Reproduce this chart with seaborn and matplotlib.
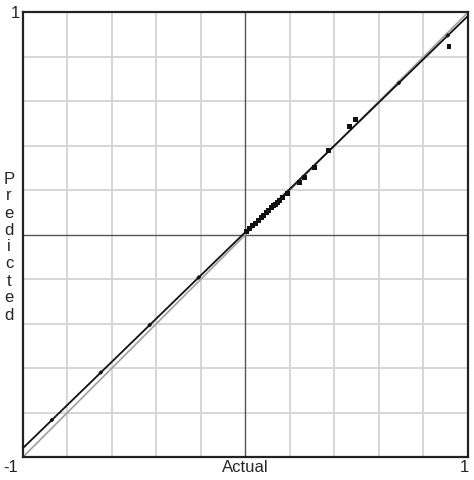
import numpy as np
import pandas as pd
import seaborn as sns
import matplotlib.pyplot as plt

# actual vs predicted values
actual = [0.006, 0.019, 0.033, 0.046, 0.060, 0.073, 0.082, 0.096, 0.104, 0.118,
          0.127, 0.136, 0.145, 0.154, 0.168, 0.190, 0.244, 0.267, 0.312, 0.375,
          0.469, 0.496, 0.915]
predicted = [0.014, 0.027, 0.041, 0.050, 0.063, 0.077, 0.086, 0.099, 0.108, 0.122,
             0.131, 0.135, 0.144, 0.153, 0.167, 0.185, 0.234, 0.257, 0.302, 0.378,
             0.486, 0.518, 0.847]

# fitted line and its marker positions
fit_intercept = 0.012
fit_slope = 0.972
fit_x = [-1.0, -0.87, -0.65, -0.43, -0.21, 0.01, 0.23, 0.45, 0.69, 0.91, 1.0]
fit_marks = [-0.87, -0.65, -0.43, -0.21, 0.69, 0.91]

ideal = [-1.0, 1.0]

sns.set_style("white")
plt.rcParams['font.family'] = ['Liberation Sans', 'DejaVu Sans']

fig = plt.figure(figsize=(4.74, 4.8), dpi=100)
ax = fig.add_axes([0.0485, 0.048, 0.9385, 0.926])

# grid
for v in np.arange(-0.8, 0.81, 0.2):
    if abs(v) < 1e-9:
        continue
    ax.axvline(v, color='#d6d6d6', lw=1.4, zorder=0)
    ax.axhline(v, color='#d6d6d6', lw=1.4, zorder=0)
ax.axvline(0, color='#555555', lw=1.0, zorder=1)
ax.axhline(0, color='#555555', lw=1.0, zorder=1)

# ideal y = x
sns.lineplot(x=ideal, y=ideal, color='#a0a0a0', lw=1.2, ax=ax, zorder=2)

# fitted line
fit_df = pd.DataFrame({'x': fit_x})
fit_df['y'] = fit_intercept + fit_slope * fit_df['x']
sns.lineplot(data=fit_df, x='x', y='y', color='#111111', lw=1.3, ax=ax, zorder=3)
mk = pd.DataFrame({'x': fit_marks})
mk['y'] = fit_intercept + fit_slope * mk['x']
sns.scatterplot(data=mk, x='x', y='y', marker='D', s=6, color='#111111',
                edgecolor='none', ax=ax, zorder=4)

# data points
pts = pd.DataFrame({'Actual': actual, 'Predicted': predicted})
sns.scatterplot(data=pts, x='Actual', y='Predicted', marker='s', s=12,
                color='#111111', edgecolor='none', ax=ax, zorder=5)

ax.set_xlim(-1, 1)
ax.set_ylim(-1, 1)
ax.set_xticks([])
ax.set_yticks([])
ax.set_xlabel('')
ax.set_ylabel('')
for s in ax.spines.values():
    s.set_color('#222222')
    s.set_linewidth(1.6)

fs = 12
fig.text(15 / 474, 1 - 14 / 480, '1', fontsize=fs, ha='center', va='center')
fig.text(11 / 474, 1 - 467 / 480, '-1', fontsize=fs, ha='center', va='center')
fig.text(464 / 474, 1 - 467 / 480, '1', fontsize=fs, ha='center', va='center')
fig.text(245 / 474, 1 - 467 / 480, 'Actual', fontsize=fs, ha='center', va='center')

word = 'Predicted'
for i, ch in enumerate(word):
    fig.text(9 / 474, 1 - (179 + i * 17) / 480, ch, fontsize=fs,
             ha='center', va='center')

fig.savefig('out.png', dpi=100)
